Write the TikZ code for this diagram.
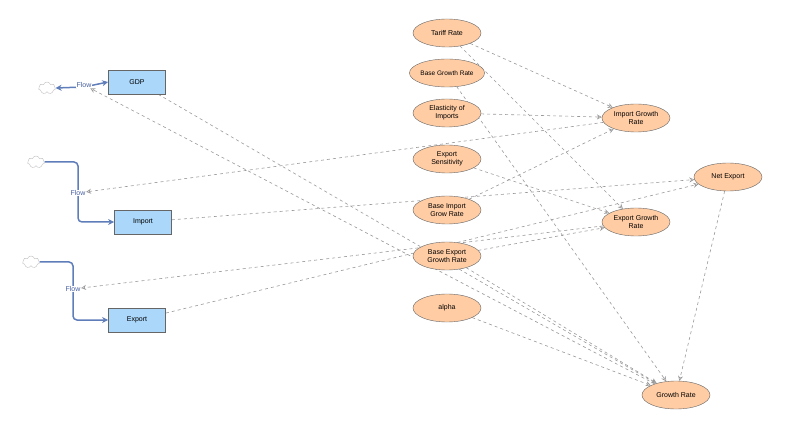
\documentclass[tikz,border=0pt]{standalone}
\usepackage{fontspec}
\setmainfont{Liberation Sans}
\usetikzlibrary{shapes.geometric,shapes.symbols,arrows.meta,backgrounds}
\begin{document}
\begin{tikzpicture}[x=1pt,y=-1pt,
  stock/.style={draw=black!60,fill={rgb,255:red,170;green,215;blue,250},thick,minimum width=57pt,minimum height=24pt,inner sep=0pt,font=\fontsize{7}{8}\selectfont},
  var/.style={ellipse,draw=black!60,fill={rgb,255:red,255;green,204;blue,164},minimum width=68pt,minimum height=28pt,inner sep=0pt,align=center,font=\fontsize{7}{8}\selectfont},
  cl/.style={cloud,cloud puffs=7,draw=black!25,fill=white,minimum width=17pt,minimum height=12pt,inner sep=0pt},
  flow/.style={draw={rgb,255:red,95;green,125;blue,185},line width=1.5pt,rounded corners=4pt,-{Stealth[length=6pt,width=6pt]}},
  fl/.style={text={rgb,255:red,70;green,95;blue,160},font=\fontsize{7}{8}\selectfont,inner sep=0.5pt},
  link/.style={draw=black!40,dashed,line width=0.6pt,-{Stealth[open,length=5pt,width=5pt]}}]
\useasboundingbox (0,0) rectangle (800,430);
% stocks
\node[stock] (gdp) at (137,82) {GDP};
\node[stock] (imp) at (143,222) {Import};
\node[stock] (exp) at (137,320) {Export};
% clouds
\node[cl] (c1) at (47,88) {};
\node[cl] (c2) at (36,162) {};
\node[cl] (c3) at (31,262) {};
% variables
\node[var] (tar) at (447,33) {Tariff Rate};
\node[var,font=\fontsize{6.5}{8}\selectfont] (bgr) at (447,73) {Base Growth Rate};
\node[var] (ela) at (447,113) {Elasticity of\\Imports};
\node[var] (es) at (447,159) {Export\\Sensitivity};
\node[var] (bim) at (447,210) {Base Import\\Grow Rate};
\node[var] (bex) at (447,256) {Base Export\\Growth Rate};
\node[var] (alp) at (447,308) {alpha};
\node[var] (igr) at (636,118) {Import Growth\\Rate};
\node[var] (egr) at (636,222) {Export Growth\\Rate};
\node[var] (ne) at (728,177) {Net Export};
\node[var] (gr) at (676,395) {Growth Rate};
% flows
\draw[flow,{Stealth[length=6pt,width=6pt]}-{Stealth[length=6pt,width=6pt]}] (c1.east) -- (84,87) -- (gdp.west);
\draw[flow] (c2.east) -- (78,162) -- (78,222) -- (imp.west);
\draw[flow] (c3.east) -- (73,262) -- (73,320) -- (exp.west);
% flow labels
\node[fl,fill=white] (l1) at (84,85) {Flow};
\node[fl,fill=white] (l2) at (78,193) {Flow};
\node[fl,fill=white] (l3) at (73,289) {Flow};
% links
\begin{scope}[on background layer]
\draw[link] (tar) -- (igr);
\draw[link] (tar) -- (egr);
\draw[link] (bgr) -- (gr);
\draw[link] (ela) -- (igr);
\draw[link] (igr) -- (l2);
\draw[link] (es) -- (egr);
\draw[link] (bim) -- (igr);
\draw[link] (bex) -- (egr);
\draw[link] (egr) -- (l3);
\draw[link] (imp) -- (ne);
\draw[link] (exp) -- (ne);
\draw[link] (gdp) -- (gr);
\draw[link] (gr) -- (l1);
\draw[link] (bex) -- (gr);
\draw[link] (alp) -- (gr);
\draw[link] (ne) -- (gr);
\end{scope}
\end{tikzpicture}
\end{document}
